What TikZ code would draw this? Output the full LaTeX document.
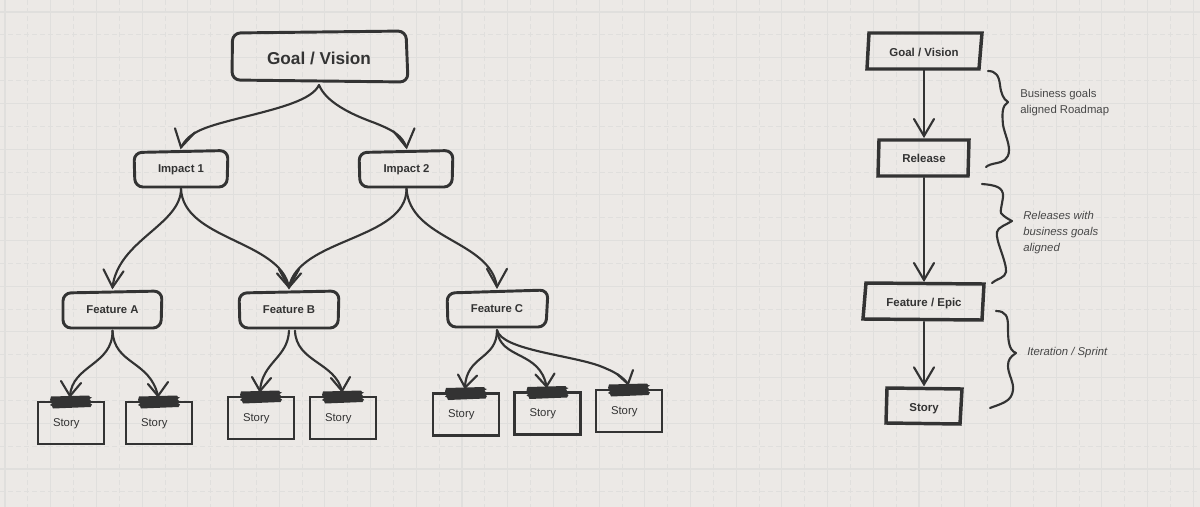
\documentclass[tikz,border=0pt]{standalone}
\usepackage{fontspec}
\setmainfont{Liberation Sans}
\usetikzlibrary{calc}
\definecolor{bgc}{HTML}{ECE9E6}
\definecolor{gridc}{HTML}{E0DFDD}
\definecolor{ink}{HTML}{333333}
\tikzset{
  conn/.style={draw=ink,line width=1.6pt,line cap=round,line join=round},
  sketch/.style={draw=ink,line width=2.2pt,line join=round},
  soft/.style={sketch,rounded corners=6pt},
  hard/.style={draw=ink,line width=2.6pt,line join=miter},
  txt/.style={text=ink,inner sep=0pt,outer sep=0pt,align=center},
  bigt/.style={txt,font=\fontsize{12.9}{15}\selectfont\bfseries,minimum width=130.5pt,minimum height=40.5pt},
  midt/.style={txt,font=\fontsize{8.5}{10}\selectfont\bfseries,minimum height=31pt,text height=6pt,text depth=0pt},
  rightt/.style={txt,font=\fontsize{8.6}{10}\selectfont\bfseries,text height=6pt,text depth=0pt},
  storybox/.style={draw=ink,line width=2.15pt,text=ink,font=\fontsize{8.5}{10}\selectfont,
     rectangle,inner xsep=11.25pt,inner ysep=0pt,outer sep=0pt,text width=27pt,align=left,
     minimum height=31.5pt,text height=5pt,text depth=0pt},
  note/.style={text=ink!90,inner sep=0pt,anchor=west,align=left,font=\fontsize{8.5}{12}\selectfont},
  pics/tape/.style={code={
    \fill[ink] (-20,-5.5) -- (18,-6.5) -- (19,-5) -- (21,-4.5) -- (18.5,-3) -- (20,-1) -- (19,1) -- (21,2.5) -- (19.5,5) -- (-18,6.5) -- (-19,4) -- (-21,3) -- (-19,1) -- (-21,-2) -- cycle;
  }}
}
\newcommand{\vhead}[3]{\draw[conn,line join=miter] (#1) ++(#2) -- (#1) -- ++(#3);}
\begin{document}
\begin{tikzpicture}[x=0.75pt,y=-0.75pt]
\useasboundingbox (0,0) rectangle (1200,507);
\fill[bgc] (0,0) rectangle (1200,507);
% grid
\foreach \k in {0,...,26} {
  \draw[gridc,line width=0.85pt] ({5+45.7*\k},0) -- ({5+45.7*\k},507);
  \draw[gridc,line width=0.6pt,dash pattern=on 3.5pt off 2.5pt] ({5+45.7*\k+22.85},0) -- ({5+45.7*\k+22.85},507);
}
\foreach \k in {0,...,10} {
  \draw[gridc,line width=0.85pt] (0,{12+45.7*\k}) -- (1200,{12+45.7*\k});
  \draw[gridc,line width=0.6pt,dash pattern=on 3.5pt off 2.5pt] (0,{12+45.7*\k+22.85}) -- (1200,{12+45.7*\k+22.85});
}

% left tree: labelled nodes (their height spans the connector ends)
\node[bigt] (g) at (319,58) {Goal / Vision};
\node[midt,minimum width=70.5pt] (i1) at (181,168) {Impact 1};
\node[midt,minimum width=70.5pt] (i2) at (406.5,168) {Impact 2};
\node[midt,minimum width=74pt,minimum height=32.5pt] (fa) at (112.5,309) {Feature A};
\node[midt,minimum width=75pt,minimum height=32.5pt] (fb) at (289,309) {Feature B};
\node[midt,minimum width=75.5pt,minimum height=32.5pt] (fc) at (497,308.5) {Feature C};

% outlines
\draw[soft] (232.5,33) -- (406,31) -- (408,82) -- (232,80) -- cycle;
\draw[soft] (134,152.5) -- (228,150.5) -- (227,187) -- (135,187) -- cycle;
\draw[soft] (359,152.5) -- (453,150.5) -- (452,187) -- (360,187) -- cycle;
\draw[soft] (63,293) -- (162,291) -- (161,328) -- (63,328) -- cycle;
\draw[soft] (239,293) -- (339,291) -- (338,328) -- (240,328) -- cycle;
\draw[soft] (447,293) -- (548,290) -- (546,327) -- (448,327) -- cycle;

% stories
\node[storybox] (s1) at (71,423) {Story};
\node[storybox] (s2) at (159,423) {Story};
\node[storybox] (s3) at (261,418) {Story};
\node[storybox] (s4) at (343,418) {Story};
\node[storybox] (s5) at (466,414.5) {Story};
\node[storybox] (s6) at (547.5,413.5) {Story};
\node[storybox] (s7) at (629,411) {Story};
\foreach \s in {s1,s2,s3,s4,s5,s6,s7} {
  \pic at (\s.north) {tape};
  \coordinate (t\s) at ($(\s.north)+(-1,-6)$);
}

% tree connectors
\draw[conn] (g.south) .. controls (312,100) and (280,108) .. (240,118) .. controls (205,127) and (190,131) .. (i1.north);
\draw[conn] (g.south) .. controls (326,102) and (350,114) .. (375,123) .. controls (395,131) and (402,136) .. (i2.north);
\vhead{i1.north}{-6,-19}{14,-15}
\vhead{i2.north}{8,-19}{-13,-16}

\draw[conn] (i1.south) .. controls (181,225) and (118,240) .. (fa.north);
\draw[conn] (i1.south) .. controls (183,240) and (280,240) .. (fb.north);
\draw[conn] (i2.south) .. controls (407,240) and (298,238) .. (fb.north);
\draw[conn] (i2.south) .. controls (410,240) and (490,240) .. (fc.north);
\vhead{fa.north}{-9,-18}{11,-16}
\vhead{fb.north}{-10,-18}{10,-18}
\vhead{fb.north}{-12,-14}{12,-14}
\vhead{fc.north}{-10,-18}{10,-18}

\draw[conn] (fa.south) .. controls (113,365) and (72,365) .. (ts1);
\draw[conn] (fa.south) .. controls (114,365) and (150,360) .. (ts2);
\draw[conn] (fb.south) .. controls (288,358) and (262,362) .. (ts3);
\draw[conn] ($(fb.south)+(6,0)$) .. controls (296,362) and (335,362) .. (ts4);
\draw[conn] (fc.south) .. controls (497,360) and (466,355) .. (ts5);
\draw[conn] (fc.south) .. controls (500,360) and (540,350) .. (ts6);
\draw[conn] (fc.south) .. controls (502,350) and (570,355) .. (600,366) .. controls (615,372) and (622,376) .. (ts7);
\vhead{ts1}{-9,-15}{11,-13}
\vhead{ts2}{-10,-12}{10,-14}
\vhead{ts3}{-8,-14}{11,-13}
\vhead{ts4}{-11,-13}{8,-14}
\vhead{ts5}{-7,-13}{12,-12}
\vhead{ts6}{-11,-12}{8,-13}
\vhead{ts7}{-11,-10}{5,-14}

% right column
\node[rightt,minimum width=84pt,minimum height=27pt] (rg) at (924,52) {Goal / Vision};
\node[rightt,minimum width=67pt,minimum height=33pt] (rr) at (924,158) {Release};
\node[rightt,minimum width=88pt,minimum height=33pt] (rf) at (924,302) {Feature / Epic};
\node[rightt,minimum width=56pt,minimum height=34pt] (rs) at (924,407) {Story};
\draw[hard] (869,33) -- (982,33) -- (979,69) -- (867,69) -- cycle;
\draw[hard] (879,140) -- (969,140) -- (968,176) -- (878,176) -- cycle;
\draw[hard] (866,283) -- (984,284) -- (982,320) -- (863,319) -- cycle;
\draw[hard] (887,388) -- (962,389) -- (960,424) -- (886,423) -- cycle;
\draw[conn] (rg.south) -- (rr.north);
\draw[conn] ($(rr.south)+(0,-2)$) -- (rf.north);
\draw[conn] ($(rf.south)+(0,-2)$) -- (rs.north);
\vhead{rr.north}{-10,-17}{10,-17}
\vhead{rf.north}{-10,-17}{10,-17}
\vhead{rs.north}{-10,-17}{10,-17}

% braces
\draw[conn] (988,71) .. controls (996,71) and (999,76) .. (1000,85) .. controls (1001,93) and (1003,99) .. (1008,102)
  .. controls (1002,106) and (1002,113) .. (1003,125) .. controls (1005,135) and (1009,142) .. (1009,150)
  .. controls (1009,160) and (1002,162) .. (997,163) .. controls (992,164) and (988,165) .. (986,167);
\draw[conn] (982,184) .. controls (995,185) and (1004,187) .. (1003,197) .. controls (1002,205) and (1000,211) .. (1001,213)
  .. controls (1003,216) and (1008,219) .. (1012,221) .. controls (1006,225) and (998,227) .. (997,232)
  .. controls (995,240) and (1007,262) .. (1006,272) .. controls (1005,278) and (998,278) .. (992,283);
\draw[conn] (996,311) .. controls (1006,311) and (1008,317) .. (1008,326) .. controls (1008,338) and (1008,350) .. (1016,353)
  .. controls (1010,357) and (1008,360) .. (1008,366) .. controls (1008,374) and (1014,382) .. (1013,390)
  .. controls (1012,402) and (1000,404) .. (990,408);

% notes
\node[note] (n1) at (1020,102.5) {Business goals\\aligned Roadmap};
\node[note,font=\fontsize{8.5}{12}\selectfont\itshape] (n2) at (1023,233) {Releases with\\business goals\\aligned};
\node[note,font=\fontsize{8.5}{12}\selectfont\itshape] (n3) at (1027,353) {Iteration / Sprint};
\end{tikzpicture}
\end{document}
